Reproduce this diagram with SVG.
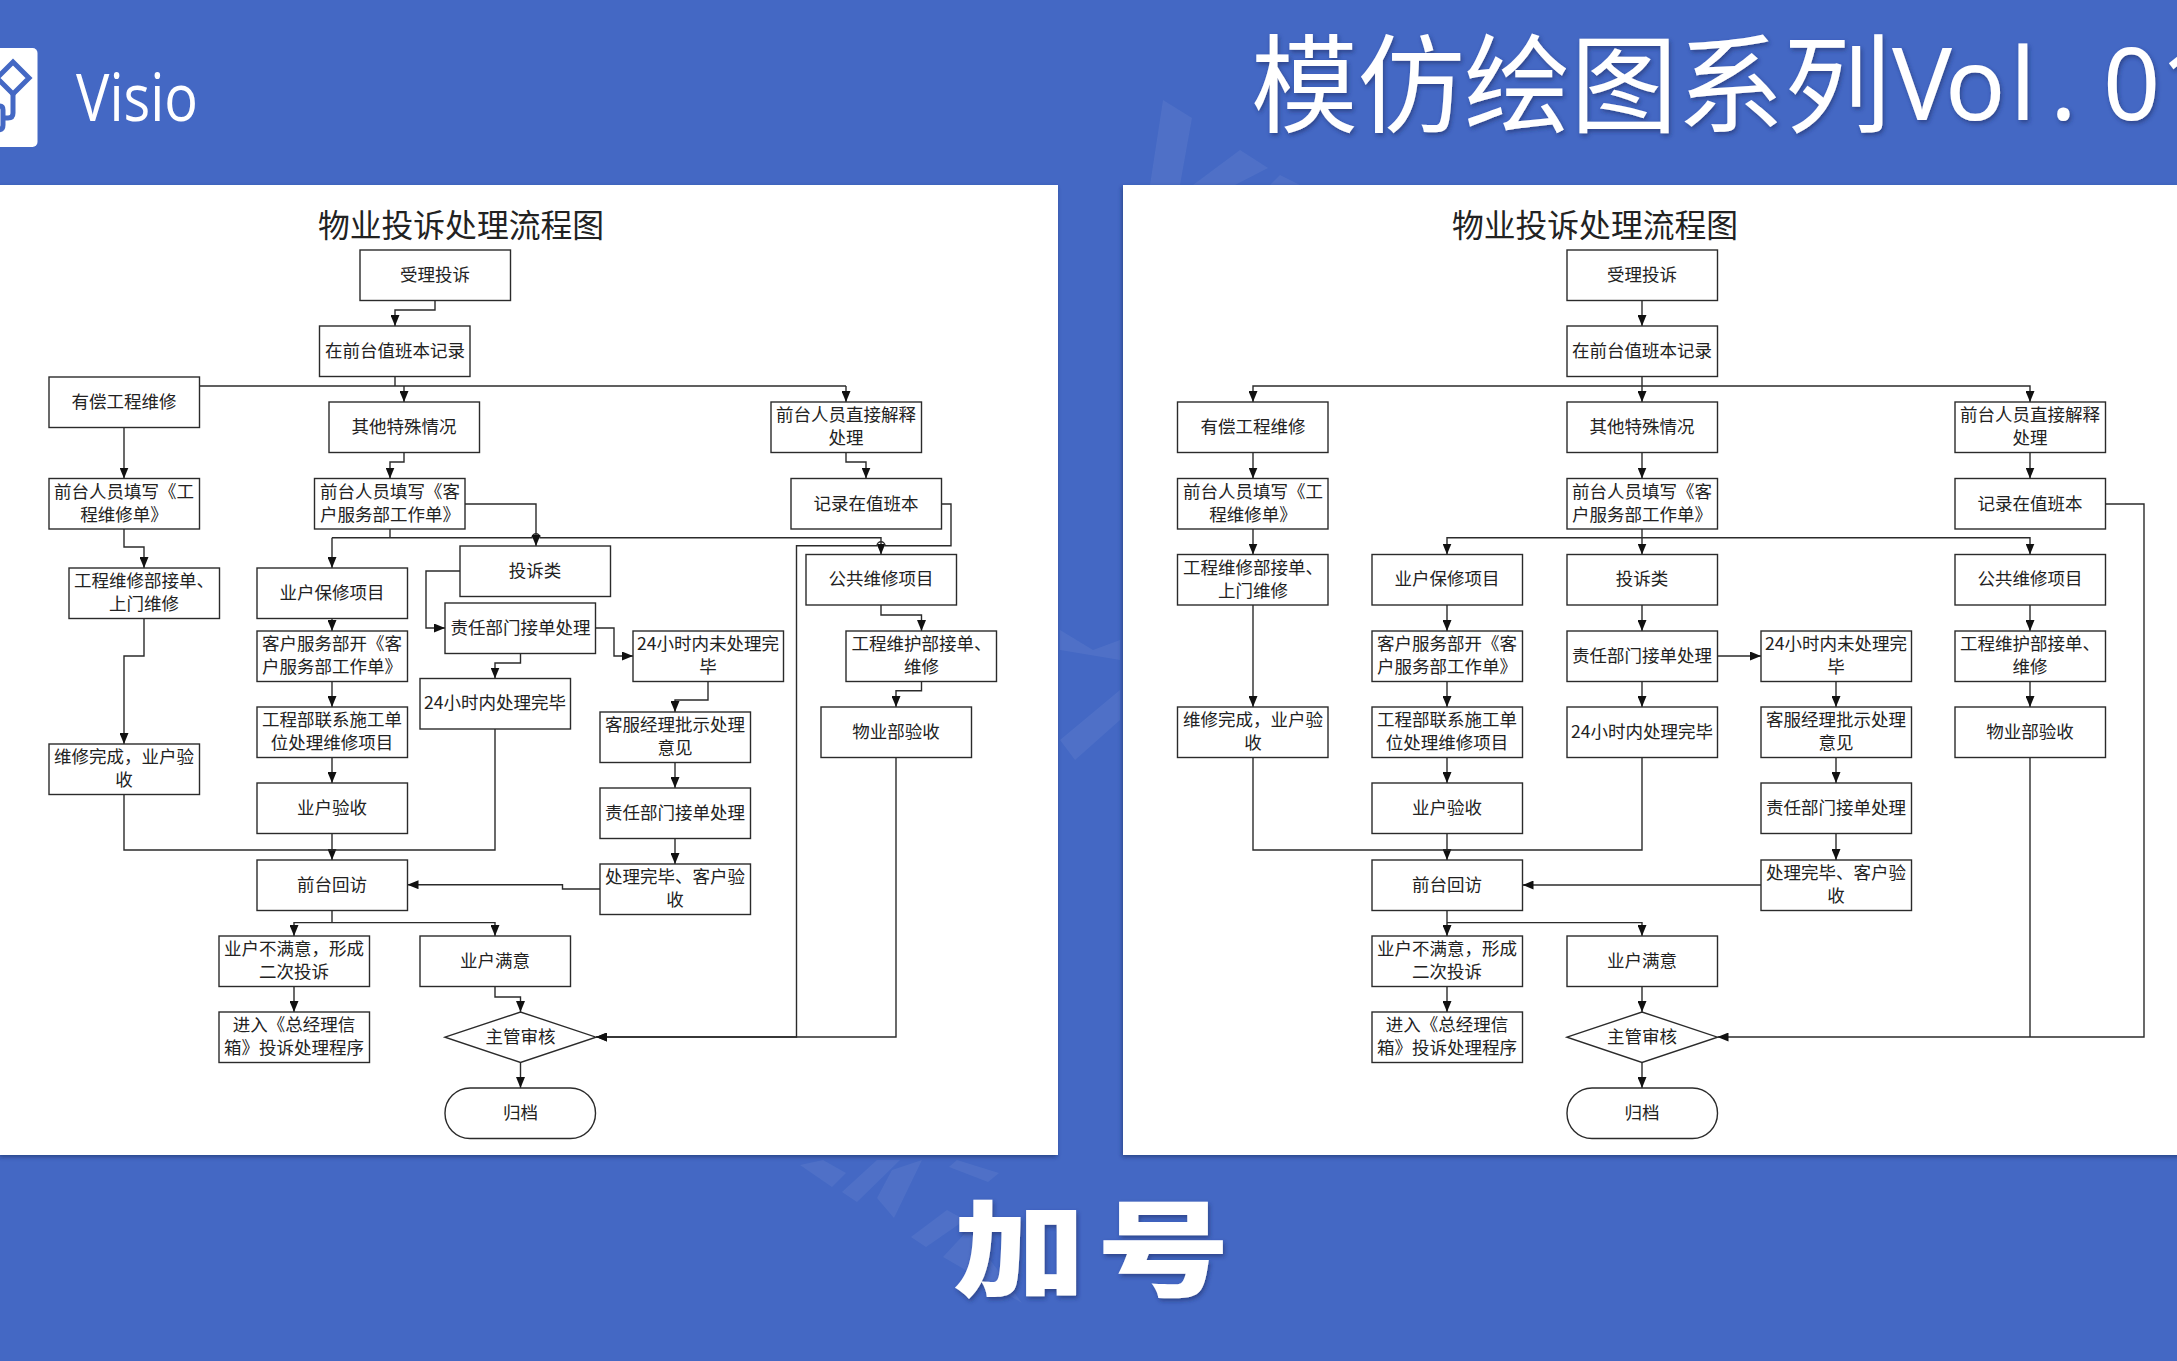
<svg xmlns="http://www.w3.org/2000/svg" width="2177" height="1361" viewBox="0 0 2177 1361">
<style>
.n{fill:#fff;stroke:#2b2b2b;stroke-width:1.4}
.t{font-family:"Noto Sans CJK SC","Liberation Sans",sans-serif;font-size:17.5px;fill:#222;text-anchor:middle;transform:translateY(-.7px)}
.h{font-family:"Noto Sans CJK SC","Liberation Sans",sans-serif;font-size:31.8px;fill:#222;text-anchor:middle}
.c{fill:none;stroke:#2b2b2b;stroke-width:1.4}
.a{marker-end:url(#arr)}
.w{fill:#fff;fill-opacity:.06}
</style>
<defs>
<marker id="arr" markerUnits="userSpaceOnUse" markerWidth="11" markerHeight="9" refX="11" refY="4.5" orient="auto"><path d="M0,0 L11,4.5 L0,9 Z" fill="#111"/></marker>
<filter id="ds" x="-5%" y="-10%" width="110%" height="125%"><feDropShadow dx="1.5" dy="2.5" stdDeviation="2" flood-color="#1c2f66" flood-opacity=".6"/></filter>
<filter id="ps" x="-3%" y="-3%" width="106%" height="106%"><feDropShadow dx="-1" dy="2" stdDeviation="2" flood-color="#1c2f66" flood-opacity=".65"/></filter>
</defs>
<rect id="background" width="2177" height="1361" fill="#4468C4"/>
<g id="watermark">
<path class="w" d="M1163,100 L1192,118 L1180,185 L1150,185 Z"/>
<path class="w" d="M1240,150 L1268,168 L1235,185 L1193,185 Z"/>
<path class="w" d="M1280,175 L1300,185 L1270,185 Z"/>
<path class="w" d="M1060,630 L1093,650 L1120,640 L1120,660 L1060,650 Z"/>
<path class="w" d="M1060,740 L1120,690 L1120,720 L1075,760 Z"/>
<path class="w" d="M800,1165 L823,1160 L846,1173 L832,1187 Z"/>
<path class="w" d="M877,1160 L900,1160 L857,1202 L842,1192 Z"/>
<path class="w" d="M892,1170 L922,1160 L894,1218 L877,1198 Z"/>
<path class="w" d="M957,1160 L999,1173 L988,1182 L949,1167 Z"/>
<path class="w" d="M911,1237 L947,1210 L965,1220 L926,1247 Z"/>
<path class="w" d="M943,1257 L968,1230 L1022,1303 L995,1287 Z"/>
</g>
<g id="logo">
<rect x="-20" y="48" width="57.5" height="99" rx="5" fill="#fff"/>
<path d="M13,62 L29,78 L13,94 L-3,78 Z" fill="none" stroke="#4468C4" stroke-width="5"/>
<path d="M13,94 V113 Q13,118 8,118 H3 M3,110 V125 Q3,130 -2,130 H-6 M-6,106 H0 Q3,106 3,110" fill="none" stroke="#4468C4" stroke-width="5"/>
<text x="76" y="121" font-family="'Open Sans','Noto Sans',sans-serif" font-weight="400" font-size="66" fill="#fff" textLength="122" lengthAdjust="spacingAndGlyphs">Visio</text>
</g>
<g id="header" filter="url(#ds)">
<text x="1251 1357.5 1464 1570.5 1677 1783.5" y="124" font-family="'Noto Sans CJK SC',sans-serif" font-size="107" fill="#fff">模仿绘图系列</text>
<text x="1892 1945 2010 2050 2103 2160" y="120" font-family="'Noto Sans','Liberation Sans',sans-serif" font-size="100" fill="#fff">Vol.01</text>
</g>
<g id="footer" filter="url(#ds)">
<text transform="translate(953,1288) scale(1.06,.84)" x="0 136" y="0" font-family="'Noto Sans CJK SC',sans-serif" font-weight="900" font-size="125" fill="#fff">加号</text>
</g>
<rect id="panel-left" x="0" y="185" width="1058" height="970" fill="#fff" filter="url(#ps)"/>
<rect id="panel-right" x="1123" y="185" width="1060" height="970" fill="#fff" filter="url(#ps)"/>
<text class="h" x="461" y="237">物业投诉处理流程图</text>
<text class="h" x="1595" y="237">物业投诉处理流程图</text>

<g id="connectors-left">
<path class="c a" d="M435,300.5 V310 H395 V326"/>
<path class="c" d="M199.5,386 H846"/>
<path class="c" d="M395,376.5 V386"/>
<path class="c a" d="M404,386 V402"/>
<path class="c a" d="M846,386 V402"/>
<path class="c a" d="M124,427.5 V478.5"/>
<path class="c a" d="M404,452.5 V462 H390 V478.5"/>
<path class="c a" d="M846,452.5 V462 H866 V478.5"/>
<path class="c a" d="M124,529 V547 H144 V568"/>
<path class="c" d="M390,529 V537.7"/>
<path class="c a" d="M332,537.7 V568"/>
<path class="c a" d="M332,537.7 H532 a4,4 0 0 1 8,0 H881 V554.5"/>
<path class="c a" d="M465,504 H536 V546"/>
<path class="c a" d="M941.5,504 H951 V545.7 H885 a4,4 0 0 0 -8,0 H796.5 V1037 H596"/>
<path class="c a" d="M460,571 H426 V628 H445"/>
<path class="c a" d="M595.5,628 H614 V656 H633"/>
<path class="c a" d="M520.5,653.5 V663 H495 V678.5"/>
<path class="c a" d="M708,681.5 V700 H675 V712"/>
<path class="c a" d="M881,605 V615 H921.5 V631"/>
<path class="c a" d="M921.5,681.5 V690.7 H896 V707"/>
<path class="c a" d="M332,618.5 V631"/>
<path class="c a" d="M332,681.5 V707"/>
<path class="c a" d="M332,757.5 V783"/>
<path class="c a" d="M332,833.5 V860"/>
<path class="c a" d="M144,618.5 V656 H124 V744"/>
<path class="c" d="M124,794.5 V850 H495 V729"/>
<path class="c a" d="M675,762.5 V788"/>
<path class="c a" d="M675,838.5 V864"/>
<path class="c a" d="M600,889 H562.5 V884.7 H407.5"/>
<path class="c" d="M332,910.5 V922.6"/>
<path class="c a" d="M332,922.6 H294 V936"/>
<path class="c a" d="M332,922.6 H495 V936"/>
<path class="c a" d="M294,986.5 V1012"/>
<path class="c a" d="M495,986.5 V997 H520.5 V1012"/>
<path class="c a" d="M520.5,1062.5 V1088"/>
<path class="c a" d="M896,757.5 V1037 H596"/>
</g>

<g id="connectors-right">
<path class="c a" d="M1642,300.5 V326"/>
<path class="c a" d="M1642,376.5 V402"/>
<path class="c a" d="M1642,386 H1253 V402"/>
<path class="c a" d="M1642,386 H2030 V402"/>
<path class="c a" d="M1253,452.5 V478.5"/>
<path class="c a" d="M1642,452.5 V478.5"/>
<path class="c a" d="M2030,452.5 V478.5"/>
<path class="c a" d="M1253,529 V554.5"/>
<path class="c a" d="M1642,529 V554.5"/>
<path class="c a" d="M1642,537.7 H1447 V554.5"/>
<path class="c a" d="M1642,537.7 H2030 V554.5"/>
<path class="c a" d="M1447,605 V631"/>
<path class="c a" d="M1642,605 V631"/>
<path class="c a" d="M2030,605 V631"/>
<path class="c a" d="M1253,605 V707"/>
<path class="c a" d="M1447,681.5 V707"/>
<path class="c a" d="M1642,681.5 V707"/>
<path class="c a" d="M1836,681.5 V707"/>
<path class="c a" d="M2030,681.5 V707"/>
<path class="c a" d="M1717.5,656 H1761"/>
<path class="c a" d="M1447,757.5 V783"/>
<path class="c a" d="M1836,757.5 V783"/>
<path class="c a" d="M1447,833.5 V860"/>
<path class="c a" d="M1836,833.5 V860"/>
<path class="c" d="M1253,757.5 V850 H1642 V757.5"/>
<path class="c a" d="M1761,885 H1522.5"/>
<path class="c a" d="M1447,910.5 V936"/>
<path class="c a" d="M1447,922.6 H1642 V936"/>
<path class="c a" d="M1447,986.5 V1012"/>
<path class="c a" d="M1642,986.5 V1012"/>
<path class="c a" d="M1642,1062.5 V1088"/>
<path class="c a" d="M2105.5,504 H2144 V1037 H1717.5"/>
<path class="c" d="M2030,757.5 V1037"/>
</g>

<g id="l1"><rect class="n" x="360" y="250" width="150.5" height="50.5"/><text class="t" x="435" y="281.3">受理投诉</text></g>
<g id="l2"><rect class="n" x="319.5" y="326" width="150.5" height="50.5"/><text class="t" x="395" y="357.3">在前台值班本记录</text></g>
<g id="l3"><rect class="n" x="49" y="377" width="150.5" height="50.5"/><text class="t" x="124" y="408.5">有偿工程维修</text></g>
<g id="l4"><rect class="n" x="329" y="402" width="150.5" height="50.5"/><text class="t" x="404" y="433.4">其他特殊情况</text></g>
<g id="l5"><rect class="n" x="771" y="402" width="150.5" height="50.5"/><text class="t" x="846" y="422">前台人员直接解释</text><text class="t" x="846" y="444.5">处理</text></g>
<g id="l6"><rect class="n" x="49" y="478.5" width="150.5" height="50.5"/><text class="t" x="124" y="499">前台人员填写《工</text><text class="t" x="124" y="521.5">程维修单》</text></g>
<g id="l7"><rect class="n" x="314.5" y="478.5" width="150.5" height="50.5"/><text class="t" x="390" y="499">前台人员填写《客</text><text class="t" x="390" y="521.5">户服务部工作单》</text></g>
<g id="l8"><rect class="n" x="791" y="478.5" width="150.5" height="50.5"/><text class="t" x="866" y="510.4">记录在值班本</text></g>
<g id="l9"><rect class="n" x="69" y="568" width="150.5" height="50.5"/><text class="t" x="144" y="588">工程维修部接单、</text><text class="t" x="144" y="610.5">上门维修</text></g>
<g id="l10"><rect class="n" x="257" y="568" width="150.5" height="50.5"/><text class="t" x="332" y="599.5">业户保修项目</text></g>
<g id="l11"><rect class="n" x="460" y="546" width="150.5" height="50.5"/><text class="t" x="535" y="577.5">投诉类</text></g>
<g id="l12"><rect class="n" x="806" y="554.5" width="150.5" height="50.5"/><text class="t" x="881" y="586">公共维修项目</text></g>
<g id="l13"><rect class="n" x="445" y="603" width="150.5" height="50.5"/><text class="t" x="520.5" y="634.5">责任部门接单处理</text></g>
<g id="l14"><rect class="n" x="633" y="631" width="150.5" height="50.5"/><text class="t" x="708" y="651">24小时内未处理完</text><text class="t" x="708" y="673.5">毕</text></g>
<g id="l15"><rect class="n" x="846" y="631" width="150.5" height="50.5"/><text class="t" x="921.5" y="651">工程维护部接单、</text><text class="t" x="921.5" y="673.5">维修</text></g>
<g id="l16"><rect class="n" x="257" y="631" width="150.5" height="50.5"/><text class="t" x="332" y="651">客户服务部开《客</text><text class="t" x="332" y="673.5">户服务部工作单》</text></g>
<g id="l17"><rect class="n" x="257" y="707" width="150.5" height="50.5"/><text class="t" x="332" y="727">工程部联系施工单</text><text class="t" x="332" y="749.5">位处理维修项目</text></g>
<g id="l18"><rect class="n" x="420" y="678.5" width="150.5" height="50.5"/><text class="t" x="495" y="710">24小时内处理完毕</text></g>
<g id="l19"><rect class="n" x="600" y="712" width="150.5" height="50.5"/><text class="t" x="675" y="732">客服经理批示处理</text><text class="t" x="675" y="754.5">意见</text></g>
<g id="l20"><rect class="n" x="821" y="707" width="150.5" height="50.5"/><text class="t" x="896" y="738.5">物业部验收</text></g>
<g id="l21"><rect class="n" x="49" y="744" width="150.5" height="50.5"/><text class="t" x="124" y="764">维修完成&#xFF0C;业户验</text><text class="t" x="124" y="786.5">收</text></g>
<g id="l22"><rect class="n" x="257" y="783" width="150.5" height="50.5"/><text class="t" x="332" y="814.5">业户验收</text></g>
<g id="l23"><rect class="n" x="600" y="788" width="150.5" height="50.5"/><text class="t" x="675" y="819.5">责任部门接单处理</text></g>
<g id="l24"><rect class="n" x="257" y="860" width="150.5" height="50.5"/><text class="t" x="332" y="891.5">前台回访</text></g>
<g id="l25"><rect class="n" x="600" y="864" width="150.5" height="50.5"/><text class="t" x="675" y="884">处理完毕、客户验</text><text class="t" x="675" y="906.5">收</text></g>
<g id="l26"><rect class="n" x="219" y="936" width="150.5" height="50.5"/><text class="t" x="294" y="956">业户不满意&#xFF0C;形成</text><text class="t" x="294" y="978.5">二次投诉</text></g>
<g id="l27"><rect class="n" x="420" y="936" width="150.5" height="50.5"/><text class="t" x="495" y="967.5">业户满意</text></g>
<g id="l28"><rect class="n" x="219" y="1012" width="150.5" height="50.5"/><text class="t" x="294" y="1032">进入《总经理信</text><text class="t" x="294" y="1054.5">箱》投诉处理程序</text></g>
<g id="l29"><path class="n" d="M445,1037.2 L520.5,1012 L596,1037.2 L520.5,1062.5 Z"/><text class="t" x="520.5" y="1043.6">主管审核</text></g>
<g id="l30"><rect class="n" x="445" y="1088" width="150.5" height="50.5" rx="25" ry="25"/><text class="t" x="520.5" y="1119.5">归档</text></g>

<g id="r1"><rect class="n" x="1567" y="250" width="150.5" height="50.5"/><text class="t" x="1642" y="281.3">受理投诉</text></g>
<g id="r2"><rect class="n" x="1567" y="326" width="150.5" height="50.5"/><text class="t" x="1642" y="357.3">在前台值班本记录</text></g>
<g id="r3"><rect class="n" x="1177.5" y="402" width="150.5" height="50.5"/><text class="t" x="1253" y="433.4">有偿工程维修</text></g>
<g id="r4"><rect class="n" x="1567" y="402" width="150.5" height="50.5"/><text class="t" x="1642" y="433.4">其他特殊情况</text></g>
<g id="r5"><rect class="n" x="1955" y="402" width="150.5" height="50.5"/><text class="t" x="2030" y="422">前台人员直接解释</text><text class="t" x="2030" y="444.5">处理</text></g>
<g id="r6"><rect class="n" x="1177.5" y="478.5" width="150.5" height="50.5"/><text class="t" x="1253" y="499">前台人员填写《工</text><text class="t" x="1253" y="521.5">程维修单》</text></g>
<g id="r7"><rect class="n" x="1567" y="478.5" width="150.5" height="50.5"/><text class="t" x="1642" y="499">前台人员填写《客</text><text class="t" x="1642" y="521.5">户服务部工作单》</text></g>
<g id="r8"><rect class="n" x="1955" y="478.5" width="150.5" height="50.5"/><text class="t" x="2030" y="510.4">记录在值班本</text></g>
<g id="r9"><rect class="n" x="1177.5" y="554.5" width="150.5" height="50.5"/><text class="t" x="1253" y="575">工程维修部接单、</text><text class="t" x="1253" y="597.5">上门维修</text></g>
<g id="r10"><rect class="n" x="1372" y="554.5" width="150.5" height="50.5"/><text class="t" x="1447" y="586">业户保修项目</text></g>
<g id="r11"><rect class="n" x="1567" y="554.5" width="150.5" height="50.5"/><text class="t" x="1642" y="586">投诉类</text></g>
<g id="r12"><rect class="n" x="1955" y="554.5" width="150.5" height="50.5"/><text class="t" x="2030" y="586">公共维修项目</text></g>
<g id="r13"><rect class="n" x="1567" y="631" width="150.5" height="50.5"/><text class="t" x="1642" y="662.5">责任部门接单处理</text></g>
<g id="r14"><rect class="n" x="1761" y="631" width="150.5" height="50.5"/><text class="t" x="1836" y="651">24小时内未处理完</text><text class="t" x="1836" y="673.5">毕</text></g>
<g id="r15"><rect class="n" x="1955" y="631" width="150.5" height="50.5"/><text class="t" x="2030" y="651">工程维护部接单、</text><text class="t" x="2030" y="673.5">维修</text></g>
<g id="r16"><rect class="n" x="1372" y="631" width="150.5" height="50.5"/><text class="t" x="1447" y="651">客户服务部开《客</text><text class="t" x="1447" y="673.5">户服务部工作单》</text></g>
<g id="r17"><rect class="n" x="1372" y="707" width="150.5" height="50.5"/><text class="t" x="1447" y="727">工程部联系施工单</text><text class="t" x="1447" y="749.5">位处理维修项目</text></g>
<g id="r18"><rect class="n" x="1567" y="707" width="150.5" height="50.5"/><text class="t" x="1642" y="738.5">24小时内处理完毕</text></g>
<g id="r19"><rect class="n" x="1761" y="707" width="150.5" height="50.5"/><text class="t" x="1836" y="727">客服经理批示处理</text><text class="t" x="1836" y="749.5">意见</text></g>
<g id="r20"><rect class="n" x="1955" y="707" width="150.5" height="50.5"/><text class="t" x="2030" y="738.5">物业部验收</text></g>
<g id="r21"><rect class="n" x="1177.5" y="707" width="150.5" height="50.5"/><text class="t" x="1253" y="727">维修完成&#xFF0C;业户验</text><text class="t" x="1253" y="749.5">收</text></g>
<g id="r22"><rect class="n" x="1372" y="783" width="150.5" height="50.5"/><text class="t" x="1447" y="814.5">业户验收</text></g>
<g id="r23"><rect class="n" x="1761" y="783" width="150.5" height="50.5"/><text class="t" x="1836" y="814.5">责任部门接单处理</text></g>
<g id="r24"><rect class="n" x="1372" y="860" width="150.5" height="50.5"/><text class="t" x="1447" y="891.5">前台回访</text></g>
<g id="r25"><rect class="n" x="1761" y="860" width="150.5" height="50.5"/><text class="t" x="1836" y="880">处理完毕、客户验</text><text class="t" x="1836" y="902.5">收</text></g>
<g id="r26"><rect class="n" x="1372" y="936" width="150.5" height="50.5"/><text class="t" x="1447" y="956">业户不满意&#xFF0C;形成</text><text class="t" x="1447" y="978.5">二次投诉</text></g>
<g id="r27"><rect class="n" x="1567" y="936" width="150.5" height="50.5"/><text class="t" x="1642" y="967.5">业户满意</text></g>
<g id="r28"><rect class="n" x="1372" y="1012" width="150.5" height="50.5"/><text class="t" x="1447" y="1032">进入《总经理信</text><text class="t" x="1447" y="1054.5">箱》投诉处理程序</text></g>
<g id="r29"><path class="n" d="M1567,1037.2 L1642,1012 L1717.5,1037.2 L1642,1062.5 Z"/><text class="t" x="1642" y="1043.6">主管审核</text></g>
<g id="r30"><rect class="n" x="1567" y="1088" width="150.5" height="50.5" rx="25" ry="25"/><text class="t" x="1642" y="1119.5">归档</text></g>
</svg>
